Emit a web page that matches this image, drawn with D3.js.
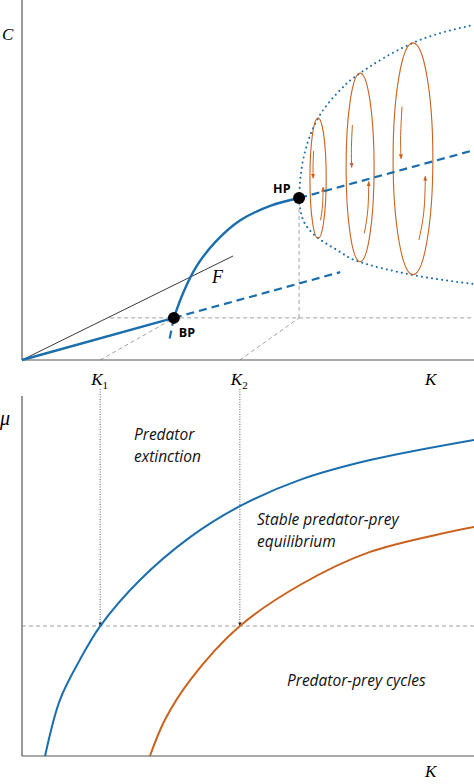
<!DOCTYPE html>
<html><head><meta charset="utf-8">
<script src="https://cdn.jsdelivr.net/npm/d3@7"></script>
<style>body{margin:0;background:#fff}</style></head>
<body><svg id="c" width="474" height="784"></svg>
<script>
const BLUE="#1a6ead", ORANGE="#c8621e", GREY="#888";
// Top panel data (K, C)
const BP=[33.6,11.7], HP=[61.3,45];
const lineF=[[0,0],[46.7,28.9]];
const stableLow=[[0,0],BP];
const stableCurve=[[33.6,11.7],[35.6,18.5],[38.6,26],[42.8,32.8],[48.3,38.8],[54.9,42.8],[61.3,45]];
const unstableA=[BP,[70.4,24.4]];
const unstableB=[BP,[32.5,5]];
const unstableC=[HP,[100,58.3]];
const cycleUpper=[[61.3,45],[62.2,55.6],[65.5,67.2],[70.4,75],[74.8,79.7],[86.5,88.1],[100,93.1]];
const cycleLower=[[61.3,45],[62.2,38.9],[65.5,33.9],[70.4,30],[74.8,27.2],[86.5,23.6],[100,21.1]];
const ellipses=[{k:65.5,c:50.5,rk:1.8,rc:16.7},{k:74.8,c:53.5,rk:3.1,rc:26.2},{k:86.5,c:55.9,rk:4.4,rc:32.2}];
const guides=[[[19.5,11.7],[100,11.7]],[[61.3,11.7],[61.3,45]],[[17.3,0],[33,11.2]],[[48.2,0],[61.3,11.7]]];
// Bottom panel data (K, mu)
const K1=17.3, K2=48.2, muLevel=36.1;
const extinctionBoundary=[[5.1,0],[8.4,15.6],[12.8,26.7],[17.3,36.1],[26.1,48.9],[37.2,60.8],[48.2,69.4],[61.5,76.7],[77,82.2],[100,87.8]];
const hopfBoundary=[[28.3,0],[31.6,10],[37.2,21.1],[48.2,36.1],[61.5,47.5],[77,56.7],[100,63.6]];

const svg=d3.select("#c");
const x=d3.scaleLinear([0,100],[22,474]);
const yT=d3.scaleLinear([0,100],[360,0]);
const yB=d3.scaleLinear([0,100],[756,396]);
const defs=svg.append("defs");
[["ao",ORANGE],["ak","#222"]].forEach(([id,col])=>defs.append("marker").attr("id",id).attr("viewBox","0 0 10 10").attr("refX",9).attr("refY",5)
 .attr("markerWidth",5).attr("markerHeight",5).attr("orient","auto").append("path").attr("d","M0,1L10,5L0,9Z").attr("fill",col));

const lt=d3.line().x(d=>x(d[0])).y(d=>yT(d[1]));
const ltc=d3.line().curve(d3.curveCatmullRom).x(d=>x(d[0])).y(d=>yT(d[1]));
const ltn=d3.line().curve(d3.curveNatural).x(d=>x(d[0])).y(d=>yT(d[1]));
const lb=d3.line().curve(d3.curveCatmullRom.alpha(0.5)).x(d=>x(d[0])).y(d=>yB(d[1]));

guides.forEach(g=>svg.append("path").attr("d",lt(g)).attr("stroke",GREY).attr("stroke-width",0.8).attr("stroke-dasharray","4,3").attr("fill","none"));
svg.append("path").attr("d",lt(lineF)).attr("stroke","#222").attr("stroke-width",0.9).attr("fill","none");
svg.append("line").attr("x1",x(0)).attr("x2",x(0)).attr("y1",0).attr("y2",yT(0)).attr("stroke","#555").attr("stroke-width",1.2);
svg.append("line").attr("x1",x(0)).attr("x2",474).attr("y1",yT(0)).attr("y2",yT(0)).attr("stroke","#555").attr("stroke-width",1.2);
[cycleUpper,cycleLower].forEach(d=>svg.append("path").attr("d",ltn(d)).attr("stroke",BLUE).attr("stroke-width",2).attr("stroke-dasharray","0.1,5").attr("stroke-linecap","round").attr("fill","none"));
ellipses.forEach(e=>{
 svg.append("ellipse").attr("cx",x(e.k)).attr("cy",yT(e.c)).attr("rx",x(e.k+e.rk)-x(e.k)).attr("ry",yT(e.c-e.rc)-yT(e.c))
  .attr("fill","none").attr("stroke",ORANGE).attr("stroke-width",1.1);
 const dl=d3.line().curve(d3.curveNatural).x(d=>x(d[0])).y(d=>yT(d[1]));
 svg.append("path").attr("d",dl([[e.k-e.rk*0.55,e.c+e.rc*0.45],[e.k-e.rk*0.62,e.c+e.rc*0.2],[e.k-e.rk*0.6,e.c]])).attr("stroke",ORANGE).attr("fill","none").attr("stroke-width",1).attr("marker-end","url(#ao)");
 svg.append("path").attr("d",dl([[e.k+e.rk*0.3,e.c-e.rc*0.7],[e.k+e.rk*0.55,e.c-e.rc*0.45],[e.k+e.rk*0.62,e.c-e.rc*0.15]])).attr("stroke",ORANGE).attr("fill","none").attr("stroke-width",1).attr("marker-end","url(#ao)");
});
[unstableA,unstableB,unstableC].forEach(d=>svg.append("path").attr("d",lt(d)).attr("stroke",BLUE).attr("stroke-width",2.2).attr("stroke-dasharray","8,5").attr("fill","none"));
svg.append("path").attr("d",lt(stableLow)).attr("stroke",BLUE).attr("stroke-width",2.4).attr("fill","none");
svg.append("path").attr("d",ltc(stableCurve)).attr("stroke",BLUE).attr("stroke-width",2.4).attr("fill","none");
[BP,HP].forEach(p=>svg.append("circle").attr("cx",x(p[0])).attr("cy",yT(p[1])).attr("r",6).attr("fill","#000"));
const sans="'Open Sans',sans-serif", serif="'Liberation Serif',serif";
svg.append("text").attr("x",x(BP[0])+5).attr("y",yT(BP[1])+19).text("BP").attr("font-family",sans).attr("font-weight","bold").attr("font-size",12.5);
svg.append("text").attr("x",x(HP[0])-26).attr("y",yT(HP[1])-5).text("HP").attr("font-family",sans).attr("font-weight","bold").attr("font-size",12.5);
svg.append("text").attr("x",212).attr("y",283).text("F").attr("font-family",serif).attr("font-style","italic").attr("font-size",18);
svg.append("text").attr("x",2).attr("y",40).text("C").attr("font-family",serif).attr("font-style","italic").attr("font-size",17);
[[K1,"1"],[K2,"2"]].forEach(([k,s])=>{const t=svg.append("text").attr("x",x(k)-9).attr("y",385).attr("font-family",serif).attr("font-style","italic").attr("font-size",17).text("K");
 t.append("tspan").attr("font-size",11).attr("font-style","normal").attr("dy",4).text(s);});
svg.append("text").attr("x",425).attr("y",385).text("K").attr("font-family",serif).attr("font-style","italic").attr("font-size",17);

svg.append("line").attr("x1",x(0)).attr("x2",x(0)).attr("y1",396).attr("y2",yB(0)).attr("stroke","#555").attr("stroke-width",1.2);
svg.append("line").attr("x1",x(0)).attr("x2",474).attr("y1",yB(0)).attr("y2",yB(0)).attr("stroke","#555").attr("stroke-width",1.2);
svg.append("line").attr("x1",x(0)).attr("x2",474).attr("y1",yB(muLevel)).attr("y2",yB(muLevel)).attr("stroke",GREY).attr("stroke-width",0.8).attr("stroke-dasharray","4,3");
[K1,K2].forEach(k=>svg.append("line").attr("x1",x(k)).attr("x2",x(k)).attr("y1",389).attr("y2",yB(muLevel)).attr("stroke","#333").attr("stroke-width",0.8).attr("stroke-dasharray","1,1.5").attr("marker-end","url(#ak)"));
svg.append("path").attr("d",lb(extinctionBoundary)).attr("stroke",BLUE).attr("stroke-width",2).attr("fill","none");
svg.append("path").attr("d",lb(hopfBoundary)).attr("stroke",ORANGE).attr("stroke-width",2).attr("fill","none");
svg.append("text").attr("x",0).attr("y",425).text("μ").attr("font-family",serif).attr("font-style","italic").attr("font-size",20);
svg.append("text").attr("x",425).attr("y",777).text("K").attr("font-family",serif).attr("font-style","italic").attr("font-size",17);
[["Predator",134,440],["extinction",134,462],["Stable predator-prey",257,525],["equilibrium",257,547],["Predator-prey cycles",287,686]].forEach(([t,a,b])=>
 svg.append("text").attr("x",a).attr("y",b).text(t).attr("font-family",sans).attr("font-style","italic").attr("font-size",15.5).attr("fill","#111"));
</script></body></html>
